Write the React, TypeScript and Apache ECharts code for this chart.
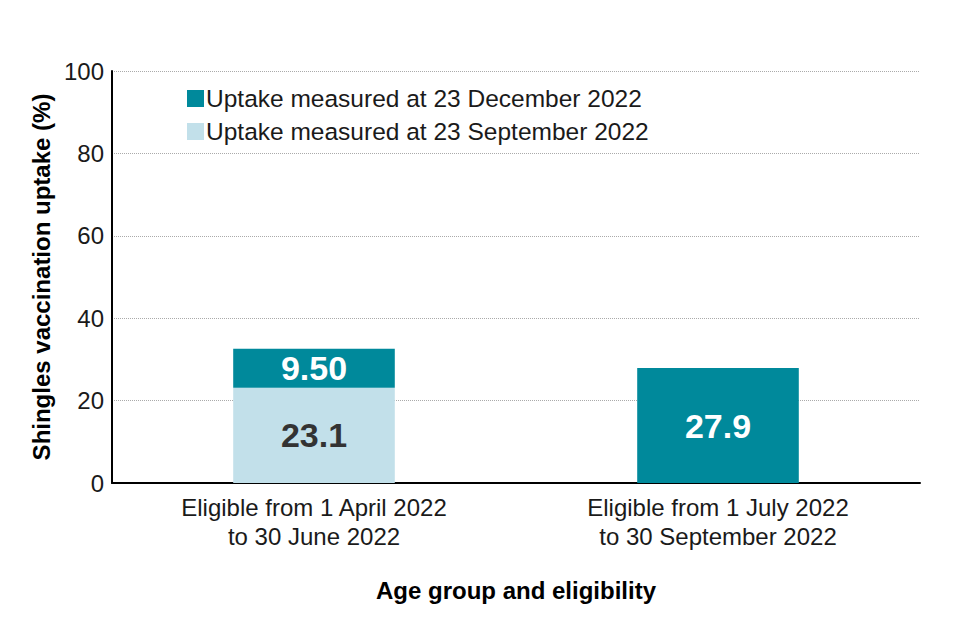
import { useEffect, useRef } from 'react';
import * as echarts from 'echarts';

const categories = ['Eligible from 1 April 2022\nto 30 June 2022', 'Eligible from 1 July 2022\nto 30 September 2022'];
const septemberUptake = [23.1, null];
const decemberUptake = [9.5, 27.9];
const septemberLabels = ['23.1', ''];
const decemberLabels = ['9.50', '27.9'];
const seriesNames = ['Uptake measured at 23 September 2022', 'Uptake measured at 23 December 2022'];

const FONT = '"Liberation Sans", Arial, sans-serif';

export default function App() {
    const chartRef = useRef<HTMLDivElement>(null);

    useEffect(() => {
        const myChart = echarts.init(chartRef.current, null, { renderer: 'svg' });

        myChart.setOption({
            animation: false,
            textStyle: { fontFamily: FONT },
            grid: { left: 104, right: 32, top: 63, bottom: 149 },
            legend: {
                data: [seriesNames[1], seriesNames[0]],
                orient: 'vertical',
                left: 174,
                top: 73,
                itemWidth: 17,
                itemHeight: 17,
                itemGap: 8,
                icon: 'rect',
                textStyle: { fontSize: 24.5, color: '#1a1a1a', fontFamily: FONT, padding: [0, 0, 0, -3] },
            },
            xAxis: {
                type: 'category',
                data: categories,
                axisLine: { lineStyle: { color: '#000', width: 2 } },
                axisTick: { show: false },
                axisLabel: { fontSize: 24, color: '#1a1a1a', lineHeight: 29, margin: 10 },
                name: 'Age group and eligibility',
                nameLocation: 'middle',
                nameGap: 95,
                nameTextStyle: { fontSize: 24, fontWeight: 'bold', color: '#000' },
            },
            yAxis: {
                type: 'value',
                min: 0,
                max: 100,
                interval: 20,
                axisLine: { show: true, lineStyle: { color: '#000', width: 2 } },
                axisTick: { show: false },
                axisLabel: { fontSize: 24, color: '#1a1a1a', margin: 8 },
                splitLine: { lineStyle: { color: '#aaa', type: 'dotted' } },
                name: 'Shingles vaccination uptake (%)',
                nameLocation: 'middle',
                nameGap: 57,
                nameTextStyle: { fontSize: 24, fontWeight: 'bold', color: '#000' },
            },
            series: [
                {
                    name: seriesNames[0],
                    type: 'bar',
                    stack: 'uptake',
                    data: septemberUptake,
                    barWidth: '40%',
                    itemStyle: { color: '#c2e0ea' },
                    label: {
                        show: true,
                        position: 'inside',
                        fontSize: 34,
                        fontWeight: 'bold',
                        color: '#333',
                        formatter: (p: any) => septemberLabels[p.dataIndex],
                    },
                },
                {
                    name: seriesNames[1],
                    type: 'bar',
                    stack: 'uptake',
                    data: decemberUptake,
                    barWidth: '40%',
                    itemStyle: { color: '#00899b' },
                    label: {
                        show: true,
                        position: 'inside',
                        fontSize: 34,
                        fontWeight: 'bold',
                        color: '#fff',
                        formatter: (p: any) => decemberLabels[p.dataIndex],
                    },
                },
            ],
        });

        return () => {
            myChart.dispose();
        };
    }, []);

    return <div ref={chartRef} style={{ width: '944px', height: '624px' }} />;
}
